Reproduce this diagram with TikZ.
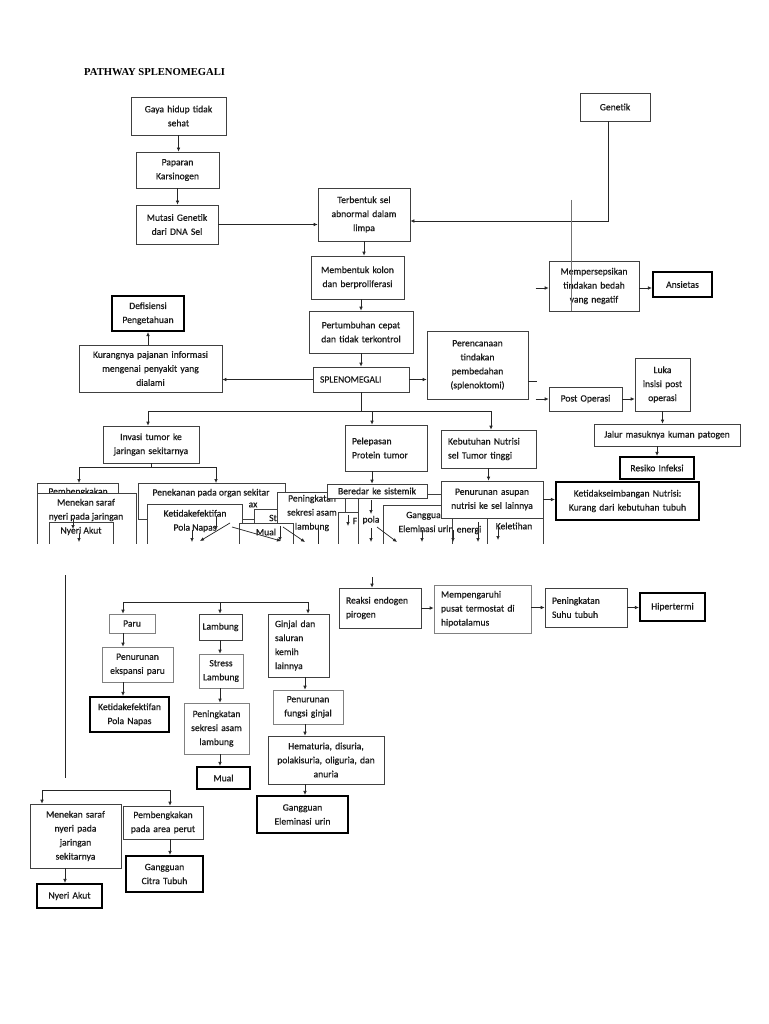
\documentclass[tikz,border=0pt]{standalone}
\usepackage{fontspec}
\setmainfont{Carlito}
\newfontfamily\bxfont{Carlito}[FakeBold=0.5]
\newfontfamily\titlefont{Liberation Serif}
\usetikzlibrary{arrows.meta,calc}
\newcommand\bx[7][]{%
 \pgfmathsetmacro\bxw{#5-#3}%
 \pgfmathsetmacro\bxh{#6-#4}%
 \pgfmathsetmacro\bxtw{#5-#3-6}%
 \pgfmathsetmacro\bxlw{#5-#3-14}%
 \pgfmathsetmacro\bxcx{(#3+#5)/2}%
 \pgfmathsetmacro\bxcy{(#4+#6)/2}%
 \node[box,minimum width=\bxw pt,minimum height=\bxh pt,text width=\bxtw pt,#1] (#2) at (\bxcx,\bxcy) {#7};}
\begin{document}
\begin{tikzpicture}[x=1pt,y=-1pt,
 box/.style={draw=black!75,line width=0.7pt,fill=white,inner sep=2pt,align=center,text=black!90,font=\bxfont\fontsize{9.6}{14}\selectfont},
 thick/.style={draw=black,line width=2.2pt},
 lbox/.style={draw=black!50},
 lft/.style={align=left,text width=\bxlw pt},
 arr/.style={-{Latex[length=4pt,width=3.6pt]},line width=0.7pt,draw=black!85},
 ln/.style={line width=0.7pt,draw=black!85},
 mbox/.style={draw=black!75,line width=0.7pt,fill=white},
 mtext/.style={align=center,inner sep=0pt,text=black!90,font=\bxfont\fontsize{9.6}{14}\selectfont}]
\useasboundingbox (0,0) rectangle (768,1024);
\fill[white] (0,0) rectangle (768,1024);
\node[font=\titlefont\bfseries\fontsize{10.6}{12}\selectfont,anchor=west,inner sep=0pt] (title) at (84,72) {PATHWAY SPLENOMEGALI};
% upper part
\bx{gaya}{131}{97}{226}{135}{Gaya hidup tidak\\sehat}
\bx{paparan}{136}{152}{219}{188}{Paparan\\Karsinogen}
\bx{mutasi}{136}{205}{218}{244}{Mutasi Genetik\\dari DNA Sel}
\bx{terbentuk}{318}{188}{410}{241}{Terbentuk sel\\abnormal dalam\\limpa}
\bx{genetik}{580}{93}{650}{121}{Genetik}
\bx{membentuk}{311}{256}{404}{299}{Membentuk kolon\\dan berproliferasi}
\bx{persepsi}{549}{261}{639}{311}{Mempersepsikan\\tindakan bedah\\yang negatif}
\bx[thick]{ansietas}{653}{272}{712}{297}{Ansietas}
\bx{pertumbuhan}{309}{311}{413}{353}{Pertumbuhan cepat\\dan tidak terkontrol}
\bx[lft]{spleno}{313}{367}{409}{392}{SPLENOMEGALI}
\bx{kurang}{79}{345}{222}{392}{Kurangnya pajanan informasi\\mengenai penyakit yang\\dialami}
\bx[thick]{defisiensi}{112}{296}{184}{331}{Defisiensi\\Pengetahuan}
\bx{rencana}{427}{331}{528}{399}{Perencanaan\\tindakan\\pembedahan\\(splenoktomi)}
\bx{postop}{549}{387}{622}{411}{Post Operasi}
\bx{luka}{635}{358}{690}{411}{Luka\\insisi post\\operasi}
\bx{jalur}{594}{424}{740}{446}{Jalur masuknya kuman patogen}
\bx[thick]{resiko}{620}{457}{694}{479}{Resiko Infeksi}
\bx{invasi}{103}{426}{199}{463}{Invasi tumor ke\\jaringan sekitarnya}
\bx[lft]{pelepasan}{345}{425}{427}{471}{Pelepasan\\Protein tumor}
\bx[lft]{kebutuhan}{441}{430}{536}{468}{Kebutuhan Nutrisi\\sel Tumor tinggi}
\bx[thick]{kurangnutrisi}{556}{482}{699}{520}{Ketidakseimbangan Nutrisi:\\Kurang dari kebutuhan tubuh}
% upper connectors
\draw[arr] (gaya.south) -- (gaya.south |- paparan.north);
\draw[arr] (paparan.south) -- (paparan.south |- mutasi.north);
\draw[arr] (mutasi.east) -- (mutasi.east -| terbentuk.west);
\coordinate (gk) at (608,221);
\draw[arr] (gk |- genetik.south) -- (gk) -- (gk -| terbentuk.east);
\draw[arr] (terbentuk.south) -- (terbentuk.south |- membentuk.north);
\draw[arr] (pertumbuhan.north |- membentuk.south) -- (pertumbuhan.north);
\draw[arr] (pertumbuhan.south) -- (pertumbuhan.south |- spleno.north);
\draw[arr] (spleno.west) -- (spleno.west -| kurang.east);
\draw[arr] (defisiensi.south |- kurang.north) -- (defisiensi.south);
\draw[arr] (spleno.east) -- (spleno.east -| rencana.west);
\draw[ln] ([yshift=-16pt]rencana.east) -- ++(9,0);
\draw[arr] ([xshift=-13pt]postop.west) -- (postop.west);
\draw[arr] ([xshift=-13pt,yshift=-2pt]persepsi.west) -- ([yshift=-2pt]persepsi.west);
\draw[arr] ([yshift=-2pt]persepsi.east) -- ([yshift=-2pt]persepsi.east -| ansietas.west);
\coordinate (stray) at (571,200);
\draw[line width=0.7pt,draw=black!55] (stray) -- (stray |- persepsi.south);
\draw[arr] (postop.east) -- (postop.east -| luka.west);
\draw[arr] (luka.south) -- (luka.south |- jalur.north);
\draw[arr] (resiko.north |- jalur.south) -- (resiko.north);
\coordinate (brL) at (148,411);
\coordinate (brP) at (372,411);
\coordinate (brR) at (491,411);
\draw[ln] (spleno.south) -- (spleno.south |- brL);
\draw[ln] (brL) -- (brR);
\draw[arr] (brL) -- (brL |- invasi.north);
\draw[arr] (brP) -- (brP |- pelepasan.north);
\draw[arr] (brR) -- (brR |- kebutuhan.north);
\coordinate (ivL) at (79,467);
\coordinate (ivR) at (216,467);
\coordinate (pembTop) at (79,483);
\coordinate (penekTop) at (216,483);
\draw[ln] (invasi.south) -- (invasi.south |- ivL);
\draw[ln] (ivL) -- (ivR);
\draw[arr] (ivL) -- (pembTop);
\draw[arr] (ivR) -- (penekTop);
% overlapping clipped area
\begin{scope}
\clip (0,470) rectangle (768,543);
\filldraw[mbox] (37,483) rectangle (118,560);
\node[mtext] (tPemb) at (78,492) {Pembengkakan};
\filldraw[mbox] (37,493) rectangle (136,560);
\node[mtext] (tMen) at (86,510) {Menekan saraf\\nyeri pada jaringan};
\filldraw[mbox] (49,522) rectangle (113,560);
\node[mtext] (tNyeri) at (81,531) {Nyeri Akut};
\filldraw[mbox] (138,483) rectangle (285,519);
\node[mtext] (tPenek) at (211,493) {Penekanan pada organ sekitar};
\node[mtext] (tAx) at (253,505) {ax};
\filldraw[mbox] (147,504) rectangle (242,560);
\node[mtext] (tKet) at (195,521) {Ketidakefektifan\\Pola Napas};
\filldraw[mbox] (254,509) rectangle (283,560);
\node[mtext] (tSt) at (273,518) {St};
\filldraw[mbox] (277,492) rectangle (345,560);
\node[mtext] (tPen) at (312,513) {Peningkatan\\sekresi asam\\lambung};
\filldraw[mbox] (239,523) rectangle (293,560);
\node[mtext] (tMual) at (266,532) {Mual};
\filldraw[mbox] (338,512) rectangle (362,560);
\node[mtext] (tF) at (355,521) {F};
\filldraw[mbox] (358,494) rectangle (442,560);
\node[mtext] (tPola) at (371,520) {pola};
\filldraw[mbox] (383,505) rectangle (460,560);
\node[mtext] (tGang) at (426,522) {Gangguan\\Eleminasi urin};
\filldraw[mbox] (452,518) rectangle (487,560);
\node[mtext] (tEnergi) at (469,530) {energi};
\filldraw[mbox] (487,518) rectangle (543,560);
\node[mtext] (tLetih) at (514,526) {Keletihan};
\draw[arr] (73,519) -- (73,529);
\draw[arr] (79,533) -- (79,542);
\draw[arr] (192,530) -- (192,542);
\draw[arr] (230,523) -- (200,541);
\draw[arr] (216,516) -- (216,530);
\draw[arr] (232,527) -- (281,541);
\draw[arr] (280,526) -- (280,541);
\draw[arr] (283,527) -- (305,542);
\draw[ln] (318,525) -- (318,545);
\draw[arr] (348,515) -- (348,526);
\draw[arr] (371,500) -- (371,514);
\draw[arr] (371,528) -- (371,542);
\draw[arr] (377,527) -- (397,542);
\draw[arr] (422,530) -- (422,542);
\draw[arr] (453,530) -- (453,542);
\draw[arr] (478,522) -- (478,542);
\draw[arr] (498,525) -- (498,540);
\end{scope}
\bx{beredar}{327}{484}{427}{498}{Beredar ke sistemik}
\bx{asupan}{441}{481}{543}{518}{Penurunan asupan\\nutrisi ke sel lainnya}
\draw[arr] (brP |- pelepasan.south) -- (brP |- beredar.north);
\draw[arr] (kebutuhan.south) -- (kebutuhan.south |- asupan.north);
\draw[arr] (asupan.east) -- (asupan.east -| kurangnutrisi.west);
% lower part
\coordinate (s1) at (65,575);
\coordinate (s2) at (65,778);
\draw[ln] (s1) -- (s2);
\bx[lft]{reaksi}{339}{588}{421}{628}{Reaksi endogen\\pirogen}
\bx[lft,lbox]{termostat}{434}{585}{531}{633}{Mempengaruhi\\pusat termostat di\\hipotalamus}
\bx[lft]{suhu}{545}{588}{627}{627}{Peningkatan\\Suhu tubuh}
\bx[thick]{hipertermi}{640}{593}{705}{621}{Hipertermi}
\bx[lbox]{paru}{109}{614}{155}{633}{Paru}
\bx[lbox]{ekspansi}{102}{647}{173}{682}{Penurunan\\ekspansi paru}
\bx[thick]{napas}{90}{697}{169}{732}{Ketidakefektifan\\Pola Napas}
\bx{lambung}{199}{614}{242}{640}{Lambung}
\bx[lbox]{stress}{199}{654}{243}{688}{Stress\\Lambung}
\bx[lbox]{sekresi}{184}{703}{249}{754}{Peningkatan\\sekresi asam\\lambung}
\bx[thick]{mual}{197}{767}{250}{789}{Mual}
\bx[lft]{ginjal}{268}{614}{329}{677}{Ginjal dan\\saluran\\kemih\\lainnya}
\bx[lbox]{fungsi}{273}{690}{343}{724}{Penurunan\\fungsi ginjal}
\bx{hematuria}{268}{736}{384}{784}{Hematuria, disuria,\\polakisuria, oliguria, dan\\anuria}
\bx[thick]{eleminasi}{257}{796}{348}{833}{Gangguan\\Eleminasi urin}
\bx{menekan}{30}{804}{121}{868}{Menekan saraf\\nyeri pada\\jaringan\\sekitarnya}
\bx{pembengkakan}{123}{806}{203}{839}{Pembengkakan\\pada area perut}
\bx[thick]{nyeri}{37}{884}{102}{908}{Nyeri Akut}
\bx[thick]{citra}{126}{856}{203}{892}{Gangguan\\Citra Tubuh}
\coordinate (pir) at (372,577);
\draw[arr] (pir) -- (pir |- reaksi.north);
\draw[arr] (reaksi.east) -- (reaksi.east -| termostat.west);
\draw[arr] (suhu.west -| termostat.east) -- (suhu.west);
\draw[arr] (suhu.east) -- (suhu.east -| hipertermi.west);
\coordinate (lb1) at (123,602);
\coordinate (lb2) at (220,602);
\coordinate (lb3) at (308,602);
\draw[ln] (lb1) -- (lb3);
\draw[arr] (lb1) -- (lb1 |- paru.north);
\draw[arr] (lb2) -- (lb2 |- lambung.north);
\draw[arr] (lb3) -- (lb3 |- ginjal.north);
\draw[arr] (lb1 |- paru.south) -- (lb1 |- ekspansi.north);
\draw[arr] (lb1 |- ekspansi.south) -- (lb1 |- napas.north);
\draw[arr] (lb2 |- lambung.south) -- (lb2 |- stress.north);
\draw[arr] (lb2 |- stress.south) -- (lb2 |- sekresi.north);
\draw[arr] (lb2 |- sekresi.south) -- (lb2 |- mual.north);
\coordinate (gx) at (305,680);
\draw[arr] (gx |- ginjal.south) -- (gx |- fungsi.north);
\draw[arr] (gx |- fungsi.south) -- (gx |- hematuria.north);
\draw[arr] (gx |- hematuria.south) -- (gx |- eleminasi.north);
\coordinate (bl1) at (42,790);
\coordinate (bl2) at (170,790);
\coordinate (x65) at (65,870);
\draw[ln] (bl1) -- (bl2);
\draw[arr] (bl1) -- (bl1 |- menekan.north);
\draw[arr] (bl2) -- (bl2 |- pembengkakan.north);
\draw[arr] (x65 |- menekan.south) -- (x65 |- nyeri.north);
\draw[arr] (bl2 |- pembengkakan.south) -- (bl2 |- citra.north);
\end{tikzpicture}
\end{document}
